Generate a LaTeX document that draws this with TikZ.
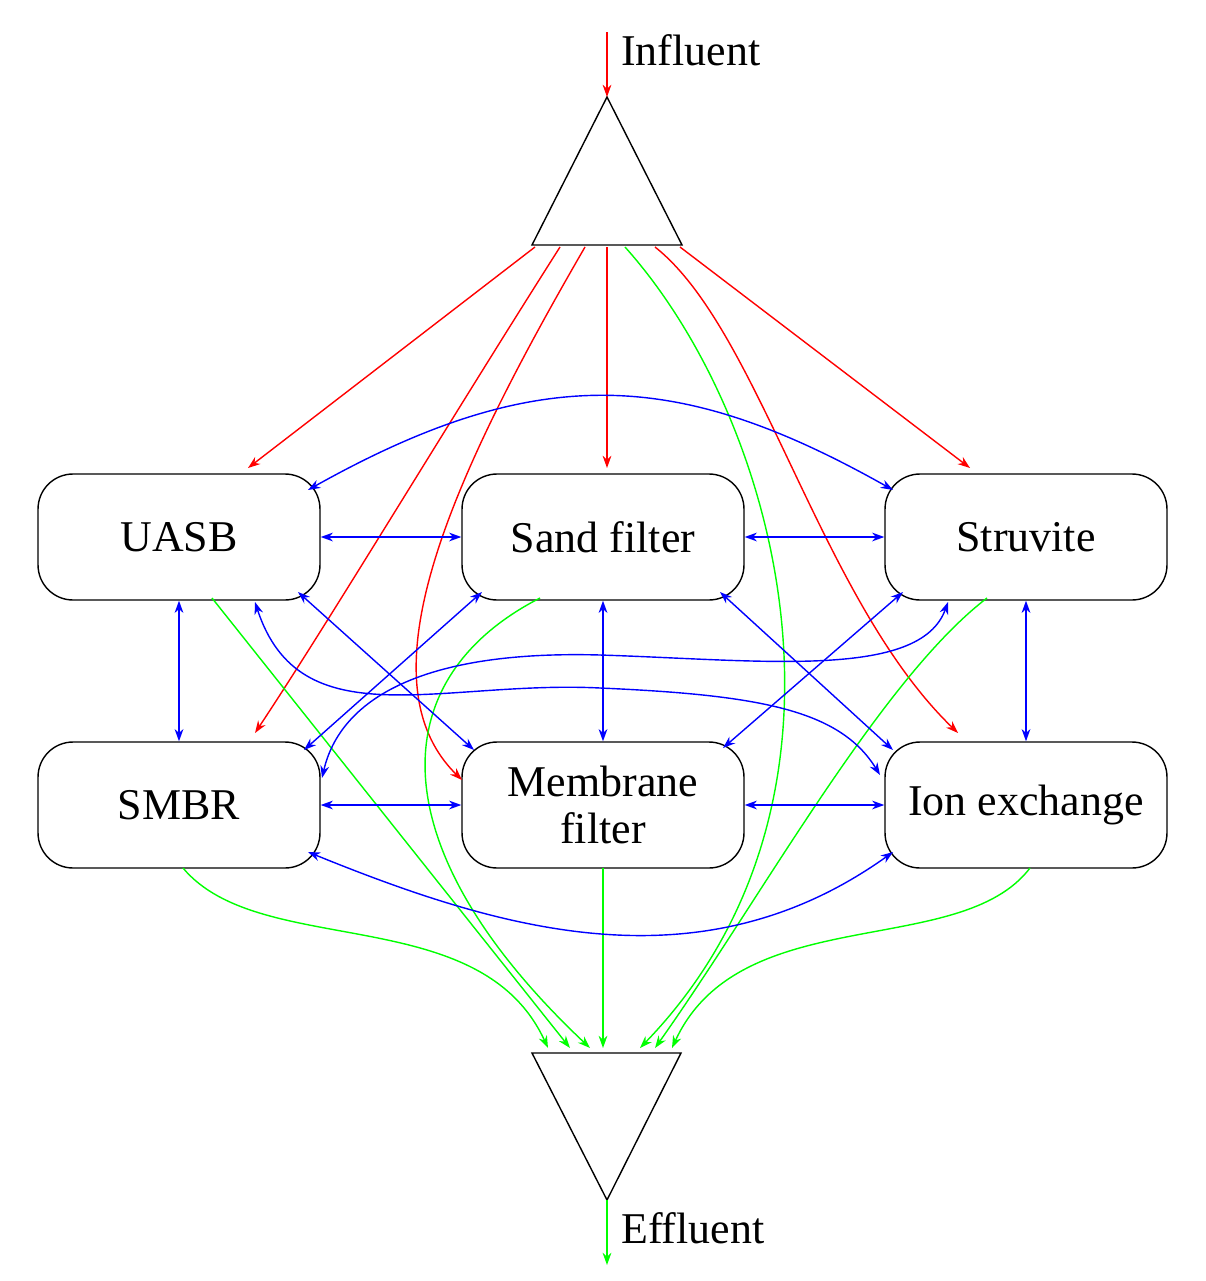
\documentclass[tikz,border=0pt]{standalone}
\usepackage{fontspec}
\setmainfont{Liberation Serif}
\usetikzlibrary{arrows.meta}
\begin{document}
\begin{tikzpicture}[x=0.02cm,y=-0.02cm,
 box/.style={draw,thick,rounded corners=0.7cm,minimum width=5.64cm,minimum height=2.52cm,align=center,font=\fontsize{25}{27}\selectfont},
 lab/.style={font=\fontsize{25}{27}\selectfont,anchor=west},
 ar/.style={line width=0.8pt,-{Stealth[length=7pt,width=5pt]}},
 dar/.style={line width=0.8pt,{Stealth[length=7pt,width=5pt]}-{Stealth[length=7pt,width=5pt]},blue},
 red/.style={ar,color=red}, grn/.style={ar,color=green}]
\useasboundingbox (0,0) rectangle (1205,1281);
\draw[thick] (607,97) -- (682,245) -- (532,245) -- cycle;
\draw[thick] (532,1053) -- (681,1053) -- (607,1200) -- cycle;
\coordinate (in) at (607,32); \coordinate (tt) at (607,97);
\coordinate (bt) at (607,1200); \coordinate (out) at (607,1265);
\draw[red] (in) -- (tt);
\node[lab] (il) at (615,50) {Influent};
\draw[grn] (bt) -- (out);
\node[lab] (el) at (615,1228) {Effluent};
\node[box] (uasb) at (179,537) {UASB};
\node[box] (sand) at (603,537) {Sand filter};
\node[box] (stru) at (1026,537) {Struvite};
\node[box] (smbr) at (179,805) {SMBR};
\node[box] (memb) at (603,805) {Membrane\\filter};
\node[box] (ion) at (1026,805) {Ion exchange};
% red
\draw[red] (535,247) -- (248,468);
\draw[red] (560,247) .. controls (450,420) and (330,620) .. (255,733);
\draw[red] (585,247) .. controls (450,480) and (360,680) .. (462,780);
\draw[red] (607,247) -- (607,468);
\draw[red] (655,247) .. controls (760,330) and (820,600) .. (958,733);
\draw[red] (680,247) -- (970,468);
% green
\draw[grn] (625,247) .. controls (780,420) and (880,800) .. (640,1048);
\draw[grn] (212,598) -- (570,1048);
\draw[grn] (540,598) .. controls (380,680) and (380,850) .. (590,1048);
\draw[grn] (987,598) .. controls (880,680) and (760,900) .. (655,1048);
\draw[grn] (183,868) .. controls (260,960) and (480,900) .. (548,1048);
\draw[grn] (603,868) -- (603,1048);
\draw[grn] (1030,868) .. controls (960,960) and (740,900) .. (672,1048);
% blue
\draw[dar] (uasb) -- (sand);
\draw[dar] (sand) -- (stru);
\draw[dar] (smbr) -- (memb);
\draw[dar] (memb) -- (ion);
\draw[dar] (uasb) -- (smbr);
\draw[dar] (sand) -- (memb);
\draw[dar] (stru) -- (ion);
\draw[dar] (308,490) .. controls (540,360) and (680,370) .. (893,490);
\draw[dar] (298,592) -- (474,750);
\draw[dar] (482,592) -- (304,750);
\draw[dar] (720,592) -- (893,750);
\draw[dar] (903,592) -- (723,748);
\draw[dar] (255,602) .. controls (300,740) and (440,680) .. (600,688) .. controls (760,695) and (840,710) .. (880,775);
\draw[dar] (948,602) .. controls (920,680) and (760,660) .. (600,655) .. controls (420,650) and (340,700) .. (322,778);
\draw[dar] (308,852) .. controls (500,930) and (700,990) .. (893,852);
\end{tikzpicture}
\end{document}
